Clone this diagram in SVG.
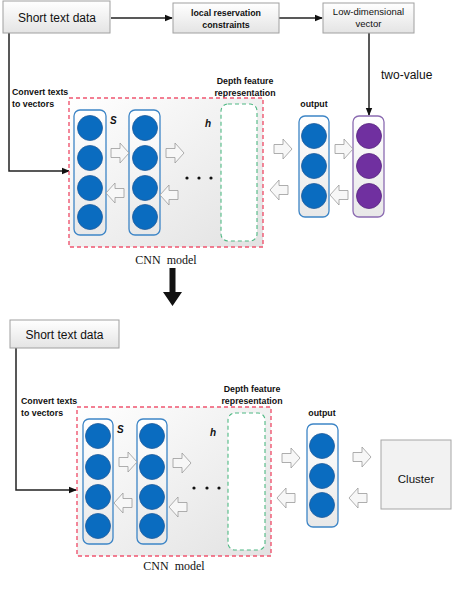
<svg xmlns="http://www.w3.org/2000/svg" width="474" height="591" viewBox="0 0 474 591">
<defs>
<linearGradient id="gBox" x1="0" y1="0" x2="0" y2="1"><stop offset="0" stop-color="#ffffff"/><stop offset="1" stop-color="#e4e4e4"/></linearGradient>
<linearGradient id="gCnn" x1="0" y1="0" x2="1" y2="1"><stop offset="0" stop-color="#ffffff"/><stop offset="1" stop-color="#e2e2e2"/></linearGradient>
<linearGradient id="gCol" x1="0" y1="0" x2="0" y2="1"><stop offset="0" stop-color="#ffffff"/><stop offset="1" stop-color="#e8e8e8"/></linearGradient>
<marker id="ah" markerWidth="8" markerHeight="8" refX="7" refY="4" orient="auto" markerUnits="userSpaceOnUse"><path d="M0,0.8 L8,4 L0,7.2 Z" fill="#111"/></marker>
<path id="bar" d="M0,-4.5 H9 V-10 L18,0 L9,10 V4.5 H0 Z" fill="#f7f7f7" stroke="#9a9a9a" stroke-width="0.8"/>
</defs>
<style>
.box{fill:url(#gBox);stroke:#a0a0a0;stroke-width:1}
.cnn{fill:url(#gCnn);stroke:#ef5670;stroke-width:1.4;stroke-dasharray:4,3}
.feat{fill:#ffffff;stroke:#4fb883;stroke-width:1.1;stroke-dasharray:4,3}
.col{fill:url(#gCol);stroke:#3d85c6;stroke-width:1.3}
.pcol{fill:url(#gCol);stroke:#8b6bb1;stroke-width:1.3}
.c{fill:#0a6cc0;stroke:#1e5a9a;stroke-width:0.8}
.pc{fill:#7030a0;stroke:#55237d;stroke-width:0.8}
.ln{fill:none;stroke:#222;stroke-width:1.5}
.t{font-family:"Liberation Sans",Arial,sans-serif;fill:#111}
.b{font-family:"Liberation Sans",Arial,sans-serif;font-weight:bold;font-size:8.8px;fill:#111}
.i{font-family:"Liberation Sans",Arial,sans-serif;font-weight:bold;font-style:italic;font-size:10px;fill:#111}
.s{font-family:"Liberation Serif","Times New Roman",serif;font-size:12px;fill:#111;white-space:pre}
.dot{fill:#111}
</style>

<g id="connectors">
<path class="ln" d="M111,18 H172" marker-end="url(#ah)"/>
<path class="ln" d="M279,18 H322" marker-end="url(#ah)"/>
<path class="ln" d="M369,33 V115" marker-end="url(#ah)"/>
<path class="ln" d="M9,33 V171 H69" marker-end="url(#ah)"/>
<path class="ln" d="M16,348 V490 H76" marker-end="url(#ah)"/>
<path d="M169.5,268 H175.5 V292 H182 L172.5,306 L163,292 H169.5 Z" fill="#111"/>
</g>

<g id="short-text-1"><rect class="box" x="3" y="1" width="107" height="32"/><text class="t" x="57" y="22" font-size="12" text-anchor="middle">Short text data</text></g>
<g id="local-constraints"><rect class="box" x="173" y="3" width="106" height="30"/><text class="b" x="226" y="15.5" text-anchor="middle">local reservation</text><text class="b" x="226" y="27.5" text-anchor="middle">constraints</text></g>
<g id="low-dim"><rect class="box" x="323" y="3" width="91" height="30"/><text class="t" x="368.5" y="15" font-size="9.5" text-anchor="middle">Low-dimensional</text><text class="t" x="368.5" y="27" font-size="9.5" text-anchor="middle">vector</text></g>
<g id="label-two-value"><text class="t" x="381" y="79" font-size="12">two-value</text></g>
<g id="label-convert-1"><text class="b" x="12" y="94.5">Convert texts</text><text class="b" x="12" y="106.5">to vectors</text></g>
<g id="label-depth-1"><text class="b" x="245" y="84" text-anchor="middle">Depth feature</text><text class="b" x="245" y="96" text-anchor="middle">representation</text></g>

<g id="cnn-1">
<rect class="cnn" x="69" y="98" width="194" height="149"/>
<rect class="feat" x="221" y="104" width="36" height="137" rx="7"/>
<rect class="col" x="74" y="110" width="32" height="125" rx="6"/>
<circle class="c" cx="90" cy="128" r="12.5"/><circle class="c" cx="90" cy="158" r="12.5"/><circle class="c" cx="90" cy="188" r="12.5"/><circle class="c" cx="90" cy="217" r="12.5"/>
<rect class="col" x="129" y="110" width="31" height="125" rx="6"/>
<circle class="c" cx="145" cy="128" r="12.5"/><circle class="c" cx="145" cy="158" r="12.5"/><circle class="c" cx="145" cy="188" r="12.5"/><circle class="c" cx="145" cy="217" r="12.5"/>
<text class="i" x="110" y="124">S</text>
<text class="i" x="205" y="127">h</text>
<use href="#bar" transform="translate(111,153)"/>
<use href="#bar" transform="translate(124,193) scale(-1,1)"/>
<use href="#bar" transform="translate(166,153)"/>
<use href="#bar" transform="translate(178,195) scale(-1,1)"/>
<circle class="dot" cx="187" cy="178" r="1.6"/><circle class="dot" cx="199" cy="178" r="1.6"/><circle class="dot" cx="211" cy="178" r="1.6"/>
<text class="s" x="166" y="264" text-anchor="middle">CNN  model</text>
</g>

<g id="output-1">
<text class="b" x="314" y="107" text-anchor="middle">output</text>
<rect class="col" x="299" y="116" width="30" height="101" rx="6"/>
<circle class="c" cx="314" cy="136" r="12.5"/><circle class="c" cx="314" cy="166" r="12.5"/><circle class="c" cx="314" cy="196" r="12.5"/>
<use href="#bar" transform="translate(274,149)"/>
<use href="#bar" transform="translate(288,190) scale(-1,1)"/>
</g>
<g id="binary-1">
<rect class="pcol" x="353" y="116" width="31" height="101" rx="6"/>
<circle class="pc" cx="369" cy="136" r="12.5"/><circle class="pc" cx="369" cy="166" r="12.5"/><circle class="pc" cx="369" cy="196" r="12.5"/>
<use href="#bar" transform="translate(335,149)"/>
<use href="#bar" transform="translate(348,195) scale(-1,1)"/>
</g>

<g id="short-text-2"><rect class="box" x="10" y="320" width="109" height="28"/><text class="t" x="64.5" y="338.5" font-size="12" text-anchor="middle">Short text data</text></g>
<g id="label-convert-2"><text class="b" x="21" y="404">Convert texts</text><text class="b" x="21" y="416">to vectors</text></g>
<g id="label-depth-2"><text class="b" x="252" y="392" text-anchor="middle">Depth feature</text><text class="b" x="252" y="404" text-anchor="middle">representation</text></g>

<g id="cnn-2">
<rect class="cnn" x="77" y="407" width="194" height="149"/>
<rect class="feat" x="228" y="413" width="37" height="137" rx="7"/>
<rect class="col" x="83" y="419" width="30" height="125" rx="6"/>
<circle class="c" cx="98" cy="436" r="12.5"/><circle class="c" cx="98" cy="467" r="12.5"/><circle class="c" cx="98" cy="497" r="12.5"/><circle class="c" cx="98" cy="526" r="12.5"/>
<rect class="col" x="137" y="419" width="30" height="125" rx="6"/>
<circle class="c" cx="152" cy="436" r="12.5"/><circle class="c" cx="152" cy="467" r="12.5"/><circle class="c" cx="152" cy="497" r="12.5"/><circle class="c" cx="152" cy="526" r="12.5"/>
<text class="i" x="117" y="433">S</text>
<text class="i" x="210" y="436">h</text>
<use href="#bar" transform="translate(119,462)"/>
<use href="#bar" transform="translate(132,503) scale(-1,1)"/>
<use href="#bar" transform="translate(173,463)"/>
<use href="#bar" transform="translate(187,507) scale(-1,1)"/>
<circle class="dot" cx="194" cy="488" r="1.6"/><circle class="dot" cx="207" cy="488" r="1.6"/><circle class="dot" cx="219" cy="488" r="1.6"/>
<text class="s" x="174" y="570" text-anchor="middle">CNN  model</text>
</g>

<g id="output-2">
<text class="b" x="322" y="416" text-anchor="middle">output</text>
<rect class="col" x="307" y="424" width="31" height="103" rx="6"/>
<circle class="c" cx="322" cy="446" r="12.5"/><circle class="c" cx="322" cy="476" r="12.5"/><circle class="c" cx="322" cy="505" r="12.5"/>
<use href="#bar" transform="translate(282,458)"/>
<use href="#bar" transform="translate(295,498) scale(-1,1)"/>
</g>
<g id="cluster">
<rect x="381" y="440" width="70" height="69" fill="#f2f2f2" stroke="#a6a6a6" stroke-width="1"/>
<text class="t" x="416" y="483" font-size="11.5" text-anchor="middle">Cluster</text>
<use href="#bar" transform="translate(353,457)"/>
<use href="#bar" transform="translate(367,498) scale(-1,1)"/>
</g>
</svg>
